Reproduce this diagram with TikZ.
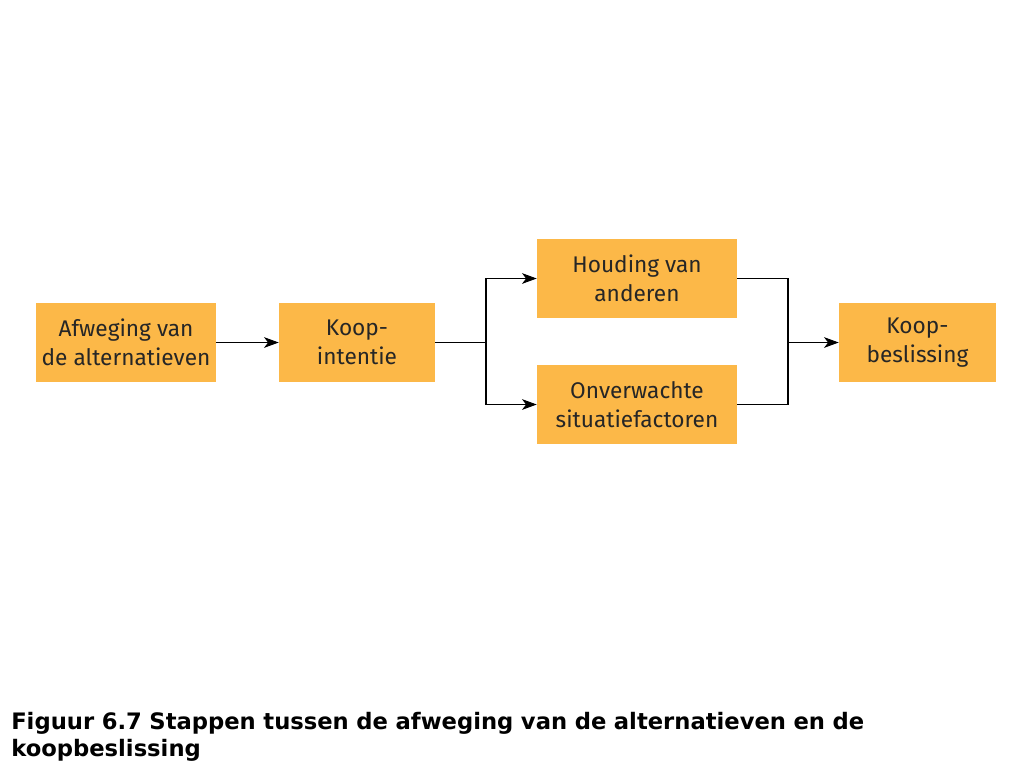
\documentclass[tikz,border=0pt]{standalone}
\usepackage{fontspec}
\usepackage{tikz}
\usetikzlibrary{arrows.meta}
\usetikzlibrary{positioning}
\newfontfamily\boxfont{Fira Sans}
\newfontfamily\capfont{DejaVu Sans}
\definecolor{boxorange}{RGB}{252,184,72}
\tikzset{x=0.75pt, y=-0.75pt,
	every node/.style={inner sep=0pt},
	stap/.style={
		fill=boxorange,
		minimum height=59.25pt,
		align=center,
		text=black!85,
		font=\boxfont\fontsize{17}{21.5}\selectfont},
	pijl/.style={
		draw,
		-{Stealth[length=11pt, width=8pt, inset=3pt]},
		line width=0.8pt},
	lijn/.style={
		draw,
		line width=0.8pt}
}
\begin{document}
\begin{tikzpicture}
	\useasboundingbox (0,0) rectangle (1024,768);
	\node[stap, minimum width=135pt] (afweging) at (126,342.5) {Afweging van\\de alternatieven};
	\node[stap, minimum width=117pt] (intentie) at (357,342.5) {Koop-\\intentie};
	\node[stap, minimum width=150pt] (houding) at (637,278.5) {Houding van\\anderen};
	\node[stap, minimum width=150pt] (situatie) at (637,404.5) {Onverwachte\\situatiefactoren};
	\node[stap, minimum width=117.75pt] (beslissing) at (917.5,342.5) {Koop-\\beslissing};
	\coordinate (splits) at (486,342.5);
	\coordinate (samen) at (788,342.5);
	\draw[pijl] (afweging) -- (intentie);
	\draw[lijn] (intentie) -- (splits);
	\draw[pijl] (splits) |- (houding);
	\draw[pijl] (splits) |- (situatie);
	\draw[lijn] (houding) -| (samen);
	\draw[lijn] (situatie) -| (samen);
	\draw[pijl] (samen) -- (beslissing);
	\node[anchor=north west, text width=665pt, align=left,
		font=\capfont\bfseries\fontsize{17}{20.5}\selectfont] (bijschrift) at (11,712)
		{Figuur 6.7 Stappen tussen de afweging van de alternatieven en de koopbeslissing};
\end{tikzpicture}
\end{document}
